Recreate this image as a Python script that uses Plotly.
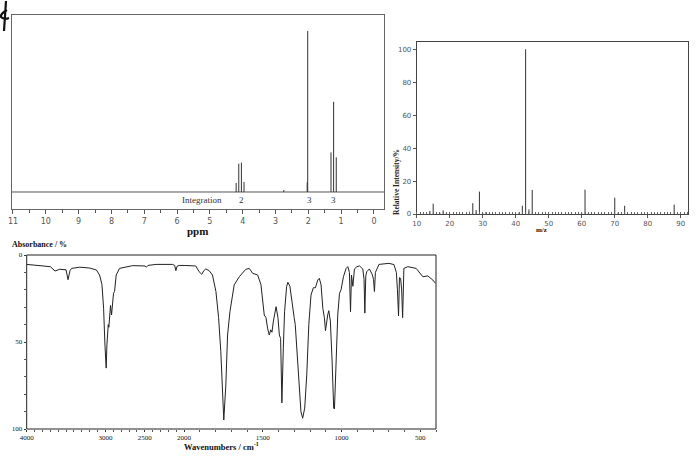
import plotly.graph_objects as go

# 1H NMR peaks (ppm, relative height)
nmr_ppm = [4.20, 4.12, 4.04, 3.96, 2.75, 2.035, 2.02, 1.31, 1.23, 1.15]
nmr_int = [5.6, 17.6, 18.2, 6.2, 1.2, 6.0, 100.0, 24.6, 56.0, 21.5]
integ_pos = [4.05, 1.98, 1.22]
integ_txt = ['2', '3', '3']

# mass spectrum
ms_mz = [13, 14, 15, 16, 17, 18, 19, 26, 27, 28, 29, 30, 31, 32, 41, 42, 43, 44, 45, 46, 60, 61, 62, 70, 71, 73, 88, 89]
ms_int = [0.5, 1.8, 6.3, 0.6, 0.9, 2.2, 1.0, 1.4, 6.6, 2.4, 13.6, 0.7, 1.2, 0.5, 0.8, 5.0, 100, 2.8, 14.6, 0.7, 0.6, 14.8, 0.6, 9.9, 0.7, 5.0, 5.7, 0.5]

# IR spectrum (wavenumber, absorbance %)
ir_wn = [4000, 3800, 3700, 3640, 3580, 3500, 3475, 3450, 3430, 3326, 3200, 3115, 3074, 3044, 3023, 3006,
         2990, 2981, 2964, 2956, 2948, 2935, 2922, 2914, 2897, 2884, 2863, 2821, 2737, 2653, 2497, 2480, 2460,
         2358, 2147, 2120, 2105, 2090, 2063, 2000,
         1926, 1905, 1888, 1875, 1862, 1841, 1820, 1798, 1781, 1767, 1756, 1748, 1735, 1724, 1709, 1682, 1650,
         1608, 1586, 1565, 1533, 1512, 1491, 1480, 1470, 1459, 1450, 1442, 1433, 1416, 1404, 1395, 1387, 1379,
         1370, 1362, 1349, 1341, 1328, 1316, 1307, 1301, 1294, 1280, 1258, 1247, 1234, 1221, 1208, 1194, 1179,
         1166, 1151, 1141, 1130, 1119, 1109, 1102, 1098, 1088, 1081, 1071, 1060, 1050, 1045, 1035, 1024, 1013,
         1003, 988, 971, 960, 950, 943, 937, 928, 918, 903, 886, 865, 857, 852, 846, 840, 823, 806, 797, 791,
         785, 762, 699, 667, 652, 645, 638, 632, 625, 618, 612, 604, 579, 526, 483, 452, 420, 403]
ir_abs = [5.4, 6.0, 6.7, 9.2, 8.2, 8.5, 14.2, 9.0, 7.7, 7.0, 7.5, 8.6, 11.5, 17.0, 30.6, 51.7,
          65.0, 51.7, 40.0, 41.5, 36.0, 29.0, 34.5, 30.0, 22.0, 21.0, 11.5, 7.7, 6.7, 6.1, 6.3, 7.0, 6.0,
          5.4, 5.4, 6.0, 9.0, 6.5, 6.0, 6.0,
          6.3, 9.6, 11.1, 9.0, 8.0, 9.0, 11.5, 21.0, 36.0, 55.5, 78.5, 94.8, 74.7, 46.0, 32.6, 17.2, 12.5,
          8.2, 7.7, 10.5, 11.5, 17.0, 34.5, 36.0, 42.0, 46.0, 43.0, 44.4, 38.0, 29.7, 36.0, 46.0, 48.0, 85.0,
          53.6, 32.6, 18.2, 15.7, 18.0, 26.8, 34.5, 36.0, 40.0, 59.4, 90.0, 93.8, 88.0, 69.0, 40.0, 23.0, 18.8,
          18.8, 14.4, 13.4, 17.2, 30.6, 36.0, 43.5, 40.0, 34.5, 32.0, 38.0, 61.0, 88.0, 88.5, 57.0, 34.5, 22.0,
          20.0, 12.5, 7.7, 6.7, 10.0, 32.6, 11.5, 18.0, 8.0, 6.7, 6.3, 8.0, 14.0, 33.4, 12.0, 9.6, 8.0, 11.0, 14.0, 21.0,
          10.0, 5.4, 4.8, 5.5, 10.0, 20.0, 35.0, 13.0, 13.4, 20.0, 36.0, 7.7, 6.7, 7.7, 12.5, 12.0, 14.4, 16.3]

W, H = 700, 474
NMR_X, NMR_Y = [12 / W, 384 / W], [1 - 209 / H, 1 - 15 / H]
MS_X, MS_Y = [416.7 / W, 687.7 / W], [1 - 214 / H, 1 - 41.7 / H]
IR_L, IR_R = 26.7 / W, 436 / W
IR_S = IR_L + (IR_R - IR_L) * 2000 / 5200
IR_Y = [1 - 429 / H, 1 - 255 / H]

SERIF = 'Liberation Serif'


def sticks(xs, ys):
    px, py = [], []
    for x, y in zip(xs, ys):
        px += [x, x, None]
        py += [0, y, None]
    return px, py


fig = go.Figure()

# NMR
fig.add_trace(go.Scatter(x=[11.03, -0.305], y=[0, 0], mode='lines',
                         line=dict(color='#555', width=1), xaxis='x', yaxis='y'))
sx, sy = sticks(nmr_ppm, nmr_int)
fig.add_trace(go.Scatter(x=sx, y=sy, mode='lines', line=dict(color='#333', width=1),
                         xaxis='x', yaxis='y'))

# MS
sx, sy = sticks(ms_mz, ms_int)
fig.add_trace(go.Scatter(x=sx, y=sy, mode='lines', line=dict(color='#333', width=1),
                         xaxis='x2', yaxis='y2'))

# IR, split at 2000 cm-1 (scale change)
hi = [(w, a) for w, a in zip(ir_wn, ir_abs) if w >= 2000]
lo = [(w, a) for w, a in zip(ir_wn, ir_abs) if w <= 2000]
fig.add_trace(go.Scatter(x=[p[0] for p in hi], y=[p[1] for p in hi], mode='lines',
                         line=dict(color='#222', width=1), xaxis='x3', yaxis='y3'))
fig.add_trace(go.Scatter(x=[p[0] for p in lo], y=[p[1] for p in lo], mode='lines',
                         line=dict(color='#222', width=1), xaxis='x4', yaxis='y3'))

for p, t in zip(integ_pos, integ_txt):
    fig.add_annotation(x=p, y=-5, xref='x', yref='y', text=t, showarrow=False,
                       font=dict(family=SERIF, size=9, color='#333'))
fig.add_annotation(x=5.24, y=-5, xref='x', yref='y', text='Integration', showarrow=False,
                   font=dict(family=SERIF, size=9, color='#333'))

ann = [
    dict(x=197 / W, y=1 - 230.5 / H, text='<b>ppm</b>', size=11, xanchor='center'),
    dict(x=541 / W, y=1 - 229.5 / H, text='<b>m/z</b>', size=7, xanchor='center'),
    dict(x=10 / W, y=1 - 244 / H, text='<b>Absorbance / %</b>', size=8, xanchor='left'),
    dict(x=222 / W, y=1 - 446 / H, text='<b>Wavenumbers / cm<sup>-1</sup></b>', size=8.5, xanchor='center'),
]
for a in ann:
    fig.add_annotation(x=a['x'], y=a['y'], xref='paper', yref='paper', text=a['text'],
                       showarrow=False, xanchor=a['xanchor'], yanchor='middle',
                       font=dict(family=SERIF, size=a['size'], color='#111'))
fig.add_annotation(x=396 / W, y=1 - 147 / H, xref='paper', yref='paper',
                   text='<b>Relative Intensity/%</b>', textangle=-90, showarrow=False,
                   font=dict(family=SERIF, size=7.5, color='#222'))

# IR frame
fig.add_shape(type='rect', xref='paper', yref='paper', x0=IR_L, x1=IR_R, y0=IR_Y[0], y1=IR_Y[1],
              line=dict(color='#222', width=1))
# handwritten mark at top-left
fig.add_shape(type='path', xref='paper', yref='paper',
              path=f'M {6/W} {1-1/H} L {4/W} {1-31/H} M {7/W} {1-10/H} Q {0} {1-14/H} {1/W} {1-17/H} '
                   f'Q {4/W} {1-20/H} {9/W} {1-18/H}',
              line=dict(color='#111', width=2.2))

fig.update_layout(
    template='none',
    width=W, height=H, margin=dict(l=0, r=0, t=0, b=0, pad=0),
    paper_bgcolor='white', plot_bgcolor='white', showlegend=False,
    xaxis=dict(domain=NMR_X, range=[11.03, -0.305], anchor='y', tickmode='linear', tick0=0, dtick=1,
               ticks='outside', ticklen=4, tickcolor='#555', showline=True, linecolor='#666', mirror=True,
               showgrid=False, zeroline=False, automargin=False,
               tickfont=dict(family='DejaVu Sans', size=8, color='#555'),
               minor=dict(dtick=0.5, tick0=0, ticks='outside', ticklen=2.5, tickcolor='#555')),
    yaxis=dict(domain=NMR_Y, range=[-10.56, 109.9], anchor='x', showticklabels=False, ticks='',
               showline=True, linecolor='#666', mirror=True, showgrid=False, zeroline=False,
               automargin=False),
    xaxis2=dict(domain=MS_X, range=[10, 92.1], anchor='y2', tickmode='linear', tick0=0, dtick=10,
                ticks='outside', ticklen=3, tickcolor='#555', showline=True, linecolor='#444', mirror=True,
                showgrid=False, zeroline=False, automargin=False,
                tickfont=dict(family='DejaVu Sans', size=7, color='#555'),
                minor=dict(dtick=1, tick0=0, ticks='inside', ticklen=2, tickcolor='#666')),
    yaxis2=dict(domain=MS_Y, range=[0, 104.6], anchor='x2', tickmode='linear', tick0=0, dtick=20,
                ticks='outside', ticklen=3, tickcolor='#555', showline=True, linecolor='#444', mirror=True,
                showgrid=False, zeroline=False, automargin=False,
                tickfont=dict(family='DejaVu Sans', size=7, color='#555')),
    xaxis3=dict(domain=[IR_L, IR_S], range=[4000, 2000], anchor='y3', tickmode='array',
                tickvals=[4000, 3000, 2500], ticks='outside', ticklen=2, tickcolor='#333',
                showline=False, showgrid=False, zeroline=False, automargin=False,
                tickfont=dict(family=SERIF, size=7, color='#111'), tickprefix='<b>', ticksuffix='</b>',
                minor=dict(dtick=100, tick0=0, ticks='outside', ticklen=2, tickcolor='#555')),
    xaxis4=dict(domain=[IR_S, IR_R], range=[2000, 400], anchor='y3', tickmode='array',
                tickvals=[2000, 1500, 1000, 500], ticks='outside', ticklen=2, tickcolor='#333',
                showline=False, showgrid=False, zeroline=False, automargin=False,
                tickfont=dict(family=SERIF, size=7, color='#111'), tickprefix='<b>', ticksuffix='</b>',
                minor=dict(dtick=100, tick0=0, ticks='outside', ticklen=2, tickcolor='#555')),
    yaxis3=dict(domain=IR_Y, range=[100, 0], anchor='x3', tickmode='array', tickvals=[0, 50, 100],
                ticks='outside', ticklen=2, tickcolor='#333', showline=False, showgrid=False, zeroline=False,
                automargin=False,
                tickfont=dict(family=SERIF, size=7, color='#111'), tickprefix='<b>', ticksuffix='</b>',
                minor=dict(dtick=10, tick0=0, ticks='outside', ticklen=2, tickcolor='#555')),
)

# the page's default body margin would push the figure off the window
fig.write_html('out.html', config={'displayModeBar': False},
               post_script="document.body.style.margin='0px';")
